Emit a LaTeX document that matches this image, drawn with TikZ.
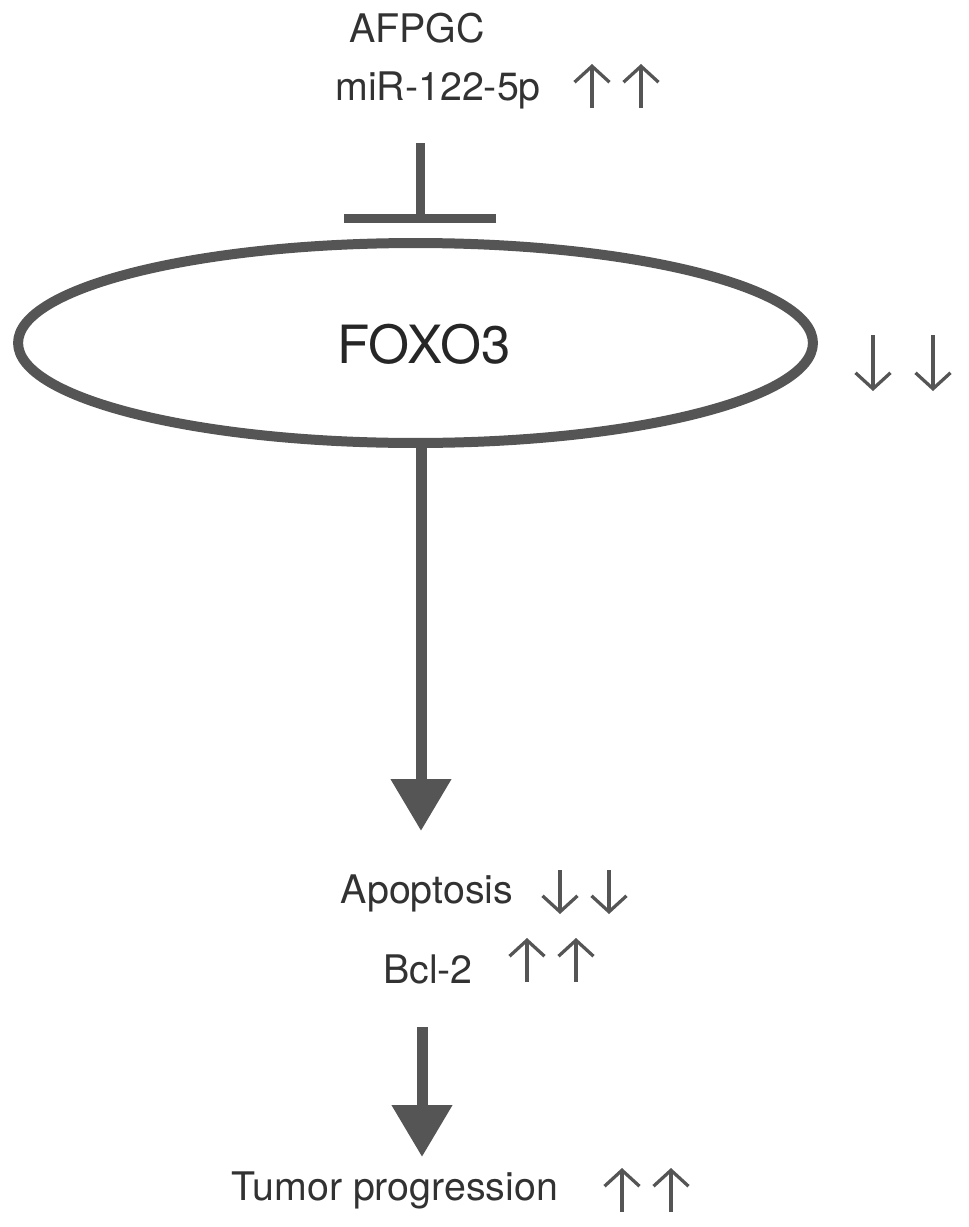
\documentclass[tikz,border=0pt]{standalone}
\usepackage{fontspec}
\setmainfont{TeX Gyre Heros}
\usetikzlibrary{arrows.meta,positioning,shapes.geometric}

\definecolor{pathgray}{RGB}{85,85,85}
\definecolor{textgray}{RGB}{50,50,50}

\tikzset{
	thinarrow/.style={pathgray, line width=0.065cm, -{Straight Barb[length=0.32cm,width=0.7cm]}},
	uppair/.pic={
		\draw[thinarrow] (0,22) -- (0,-22);
		\draw[thinarrow] (49,22) -- (49,-22);
	},
	downpair/.pic={
		\draw[thinarrow] (0,-22) -- (0,22);
		\draw[thinarrow] (49,-22) -- (49,22);
	},
	bigdownpair/.pic={
		\draw[thinarrow] (0,-28) -- (0,28);
		\draw[thinarrow] (60,-28) -- (60,28);
	}
}

\begin{document}
\begin{tikzpicture}[
		x=0.02cm,y=-0.02cm,
		every node/.style={text=textgray, font=\fontsize{22.4}{26}\selectfont, inner sep=0pt},
		bigarrow/.style={pathgray, line width=0.22cm, -{Triangle[length=1.04cm,width=1.16cm]}}
		]
		\useasboundingbox (0,0) rectangle (969,1227);
		
		% =========================
		% Top: miRNA and inhibition
		% =========================
		\node[anchor=base] (afpgc) at (417,42) {AFPGC};
		\node[anchor=base] (mir) at (438,100) {miR-122-5p};
		\pic at (592,86) {uppair};
		
		\coordinate (inhstart) at (420,143);
		
		% =========================
		% FOXO3 ellipse
		% =========================
		\node[ellipse, draw=pathgray, line width=0.2cm,
			minimum width=15.9cm, minimum height=4.0cm] (foxo) at (415.5,343) {};
		\node[anchor=base, font=\fontsize{30}{34}\selectfont, text=black!85] (foxolabel) at (424,363) {FOXO3};
		\pic at (873,363) {bigdownpair};
		
		\draw[pathgray, line width=0.18cm, -{Bar[width=3.06cm]}, shorten >=0.3cm] (inhstart) -- (inhstart |- foxo.north);
		
		% =========================
		% Downstream effects
		% =========================
		\coordinate (foxotip) at (421,831);
		\draw[bigarrow] (foxo.south -| foxotip) -- (foxotip);
		
		\node[anchor=base] (apop) at (427,903) {Apoptosis};
		\pic at (560,892) {downpair};
		
		\node[anchor=base] (bcl) at (428,983) {Bcl-2};
		\pic at (527,960) {uppair};
		
		\coordinate (bcltail) at (422,1027);
		\coordinate (bcltip) at (422,1157);
		\draw[bigarrow] (bcltail) -- (bcltip);
		
		\node[anchor=base] (tumor) at (395,1200) {Tumor progression};
		\pic at (622,1190) {uppair};
		
	\end{tikzpicture}
\end{document}
